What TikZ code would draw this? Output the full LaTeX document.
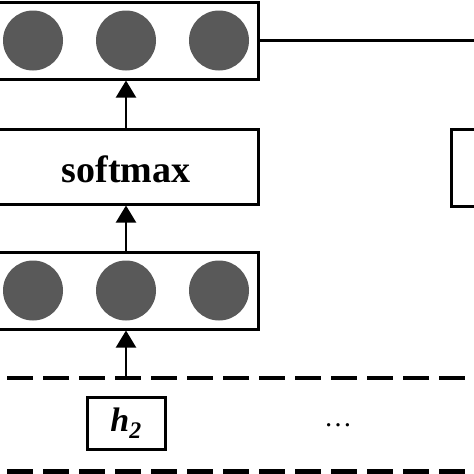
\documentclass[tikz,border=0pt]{standalone}
\usepackage{fontspec}
\setmainfont{Liberation Serif}
\usetikzlibrary{positioning, arrows.meta}

\begin{document}
\begin{tikzpicture}[x=1pt, y=-1pt,
        layer/.style={draw, line width=3pt, minimum width=264pt, minimum height=77pt, inner sep=0pt},
        unit/.style={circle, fill=black!65, minimum size=60pt, inner sep=0pt},
        up/.style={-{Triangle[width=20pt, length=17pt]}, line width=2pt},
        guide/.style={line width=4pt, dash pattern=on 26pt off 10pt}]
            \useasboundingbox (0,0) rectangle (474,474);
            \node [layer] (out) at (126,40.5) {};
            \node [layer, minimum height=75pt] (soft) at (126,166.5) {};
            \node [font=\fontsize{38}{40}\selectfont\bfseries, anchor=base] (word) at (126,182) {softmax};
            \node [layer] (hid) at (126,290.5) {};
            \node [layer, minimum width=60pt, anchor=west] (side) at (450,167.5) {};
            \foreach \Col in {33, 126, 219}{
                \node [unit] at (\Col,40.5) {};
                \node [unit] at (\Col,290.5) {};
            }
            \coordinate (edge) at (474,40.5);
            \draw [line width=2.5pt] (out.east) -- (edge);
            \draw [up] (soft.north) -- (out.south);
            \draw [up] (hid.north) -- (soft.south);
            % input row
            \coordinate (gl) at (7,378);
            \coordinate (gr) at (474,378);
            \coordinate (bl) at (7,471.5);
            \coordinate (br) at (474,471.5);
            \coordinate (tap) at (126,378);
            \draw [guide] (gl) -- (gr);
            \draw [guide, line width=5pt] (bl) -- (br);
            \draw [up] (tap) -- (hid.south);
            \node [draw, line width=3pt, minimum width=78pt, minimum height=52pt, inner sep=0pt,
                font=\fontsize{34}{36}\selectfont\bfseries\itshape] (h2) at (126,423) {h\textsubscript{2}};
            \node [font=\fontsize{28}{30}\selectfont] (dots) at (338,425) {\dots};
        \end{tikzpicture}
\end{document}
